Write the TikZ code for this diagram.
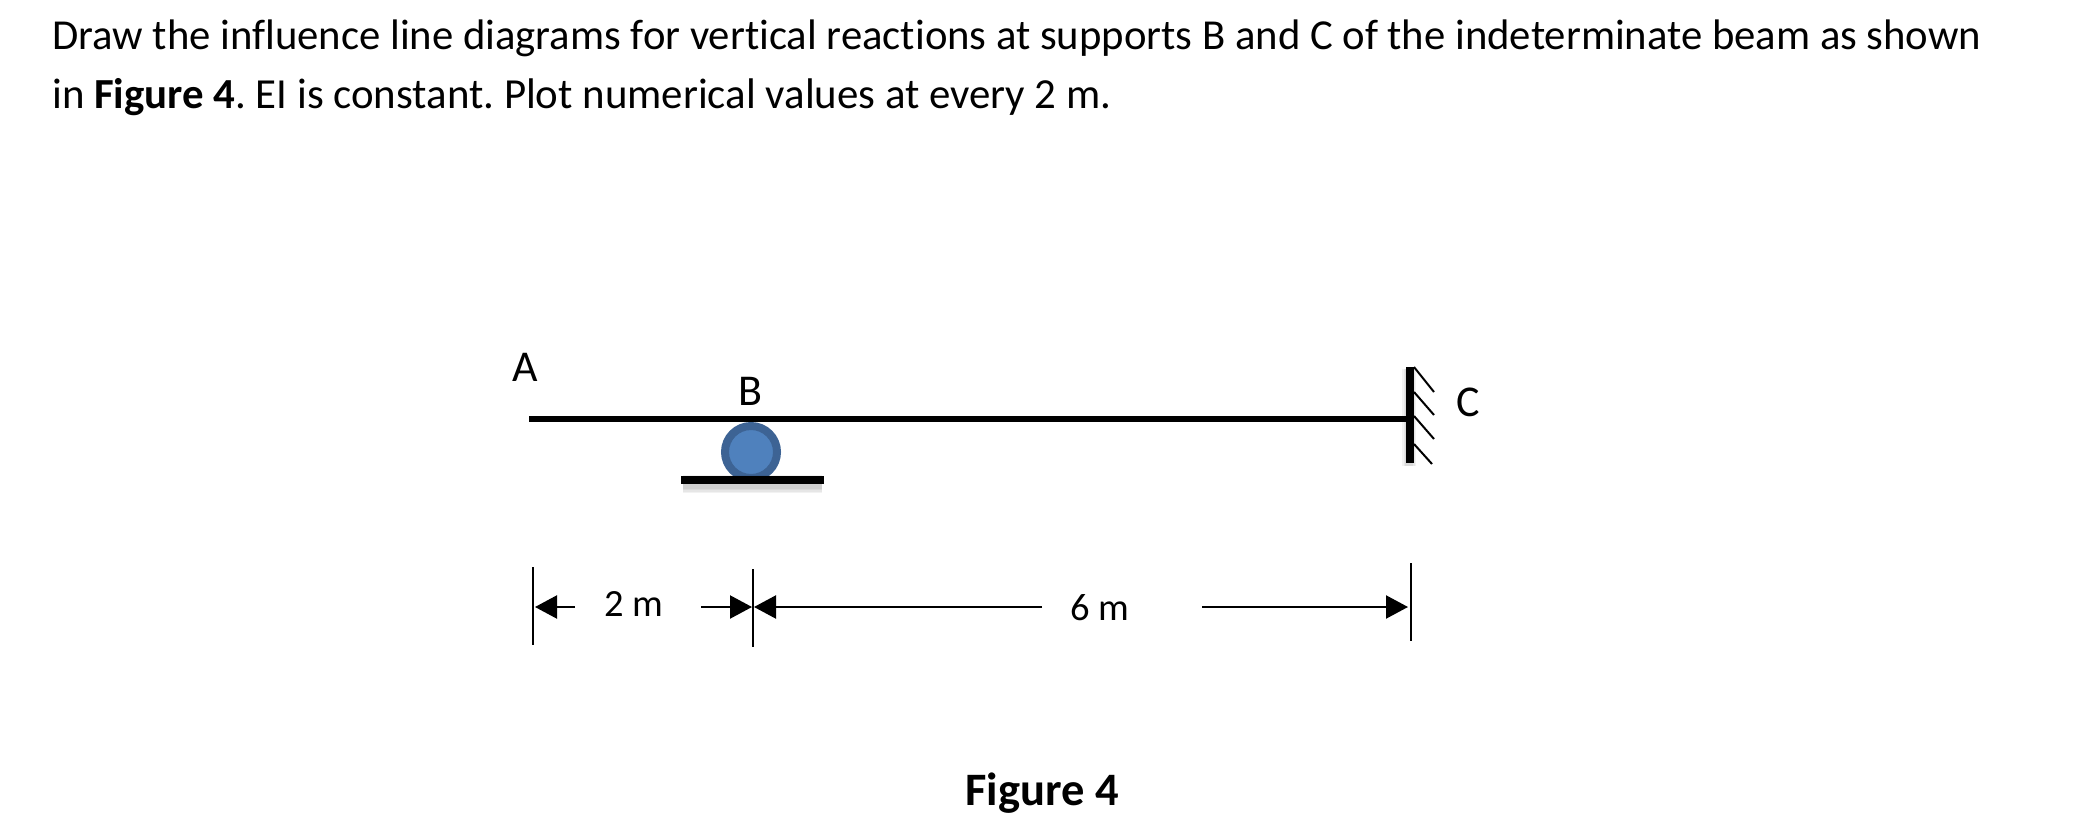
\documentclass[tikz,border=0pt]{standalone}
\usepackage{fontspec}
\setmainfont[Ligatures=NoCommon]{Carlito}
\usetikzlibrary{arrows.meta}
\definecolor{ballfill}{HTML}{4F81BD}
\definecolor{ballline}{HTML}{3D6394}
\frenchspacing
\tikzset{
  x=1pt,y=-1pt,
  para/.style={anchor=base west,inner sep=0pt,font=\fontsize{42.7}{50}\selectfont},
  lab/.style={inner sep=0pt,font=\fontsize{44}{52}\selectfont},
  dimlab/.style={inner sep=0pt,font=\fontsize{38.5}{46}\selectfont},
  beam/.style={line width=6pt},
  thickbar/.style={line width=8pt},
  dimline/.style={line width=2.2pt},
  tick/.style={line width=2.6pt},
  hatchline/.style={line width=2pt},
  dimarrow/.style={dimline,-{Triangle[length=22pt,width=23pt]}},
  softshadow/.style={line width=#1,black,opacity=0.05}
}
\begin{document}
\begin{tikzpicture}
\useasboundingbox (0,0) rectangle (2090,834);
\node[para] (l1) at (52,50) {Draw the influence line diagrams for vertical reactions at supports B and C of the indeterminate beam as shown};
\node[para,font=\fontsize{42.85}{50}\selectfont] (l2) at (52,109) {in \textbf{Figure 4}. EI is constant. Plot numerical values at every 2 m.};

\coordinate (beamL) at (529,418.5);
\coordinate (beamR) at (1410,418.5);
\coordinate (baseL) at (681,479.5);
\coordinate (baseR) at (824,479.5);
\coordinate (wallT) at (1410,367);
\coordinate (wallB) at (1410,463);

% support ball
\draw[ballline,fill=ballfill,line width=8pt] (751,452) circle (26);

% soft shadows
\foreach \w in {18,15,12,9}{
  \draw[softshadow=\w pt] (683,484) -- (822,484);
}
\foreach \w in {14,11,8}{
  \draw[softshadow=\w pt] (1409,369) -- (1409,466);
}
\draw[thickbar] (baseL) -- (baseR);
\draw[beam] (beamL) -- (beamR);
\draw[thickbar] (wallT) -- (wallB);

% hatching
\coordinate (h1a) at (1414,367); \coordinate (h1b) at (1434,392);
\coordinate (h2a) at (1414,392); \coordinate (h2b) at (1434,415);
\coordinate (h3a) at (1414,416); \coordinate (h3b) at (1434,439);
\coordinate (h4a) at (1414,444); \coordinate (h4b) at (1432,464);
\foreach \i in {1,2,3,4}{\draw[hatchline] (h\i a) -- (h\i b);}

\node[lab] (A) at (525,367) {A};
\node[lab] (B) at (750,391) {B};
\node[lab] (C) at (1468,402) {C};

% dimension lines
\coordinate (t1a) at (533,567); \coordinate (t1b) at (533,645);
\coordinate (t2a) at (753,569); \coordinate (t2b) at (753,647);
\coordinate (t3a) at (1411,563); \coordinate (t3b) at (1411,641);
\draw[tick] (t1a) -- (t1b);
\draw[tick] (t2a) -- (t2b);
\draw[tick] (t3a) -- (t3b);

\coordinate (d1s) at (575,607); \coordinate (d1e) at (535,607);
\coordinate (d2s) at (701,607); \coordinate (d2e) at (752,607);
\coordinate (d3s) at (1042,607); \coordinate (d3e) at (754,607);
\coordinate (d4s) at (1202,607); \coordinate (d4e) at (1408,607);
\draw[dimarrow] (d1s) -- (d1e);
\draw[dimarrow] (d2s) -- (d2e);
\draw[dimarrow] (d3s) -- (d3e);
\draw[dimarrow] (d4s) -- (d4e);

\node[dimlab] (dimA) at (634,604) {2 m};
\node[dimlab] (dimB) at (1100,608) {6 m};
\node[inner sep=0pt,font=\fontsize{46.5}{54}\bfseries\selectfont] (cap) at (1042,793) {Figure 4};
\end{tikzpicture}
\end{document}
